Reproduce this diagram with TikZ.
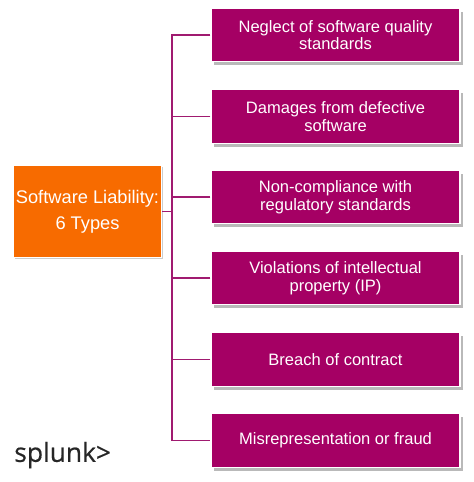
\documentclass[tikz,border=0pt]{standalone}
\usepackage{fontspec}
\setmainfont{Liberation Sans}
\newfontfamily\logofont[FakeBold=0.5]{Open Sans}
\usetikzlibrary{positioning,calc,shadows}
\definecolor{berry}{HTML}{A50064}
\definecolor{tangerine}{HTML}{F76B00}
\definecolor{linkline}{HTML}{A01A70}

\begin{document}
\begin{tikzpicture}[
    typebox/.style={draw=white, line width=0.6pt, fill=berry, text=white, align=center, minimum width=4.98cm, minimum height=1.07cm, inner sep=0pt, font=\fontsize{9.4}{10}\selectfont, drop shadow={opacity=0.55, shadow xshift=0.05cm, shadow yshift=-0.07cm}},
    rootbox/.style={draw=white, line width=0.8pt, fill=tangerine, text=white, align=center, minimum width=2.96cm, minimum height=1.84cm, inner sep=0pt, font=\fontsize{10.4}{14.8}\selectfont, drop shadow={opacity=0.4, shadow xshift=0.03cm, shadow yshift=-0.04cm}},
    link/.style={draw=linkline, line width=0.9pt}
]
\useasboundingbox (0,0) rectangle (9.48,9.64);

% Trunk position
\coordinate (trunktop) at (3.44,8.94);

% Root box
\node[rootbox] (root) at (1.75,5.41) {Software Liability:\\6 Types};

% Type boxes
\node[typebox] (neglect) at (6.71,8.94) {Neglect of software quality\\standards};
\node[typebox] (damages) at (6.71,7.31) {Damages from defective\\software};
\node[typebox] (noncomp) at (6.71,5.70) {Non-compliance with\\regulatory standards};
\node[typebox] (ipviol) at (6.71,4.08) {Violations of intellectual\\property (IP)};
\node[typebox] (breach) at (6.71,2.45) {Breach of contract};
\node[typebox] (misrep) at (6.71,0.83) {Misrepresentation or fraud};

% Connectors
\draw[link] (neglect.west) -- (neglect.west -| trunktop) -- (misrep.west -| trunktop) -- (misrep.west);
\draw[link] (damages.west) -- (damages.west -| trunktop);
\draw[link] (noncomp.west) -- (noncomp.west -| trunktop);
\draw[link] (ipviol.west) -- (ipviol.west -| trunktop);
\draw[link] (breach.west) -- (breach.west -| trunktop);
\draw[link] (root.east) -- (root.east -| trunktop);

% Logo
\node[font=\logofont\fontsize{15}{15}\selectfont, text=black!85, inner sep=0pt, anchor=west] (logo) at (0.28,0.54) {splunk>};
\end{tikzpicture}
\end{document}
